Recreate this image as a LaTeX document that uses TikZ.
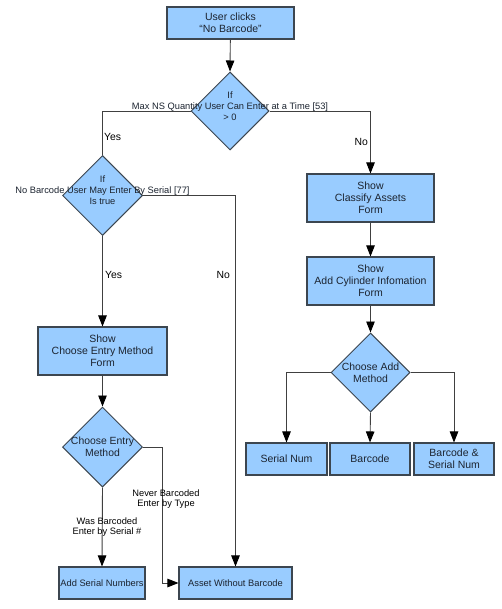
\documentclass[tikz,border=0pt]{standalone}
\usepackage{fontspec}
\setmainfont{Liberation Sans}
\usetikzlibrary{arrows.meta,shapes.geometric}
\definecolor{boxfill}{HTML}{99CCFF}
\definecolor{boxdraw}{HTML}{3C4650}
\definecolor{linecol}{HTML}{404040}
\definecolor{txtcol}{HTML}{1C2430}
\tikzset{
  procbox/.style={draw=boxdraw,fill=boxfill,line width=1.1pt,inner sep=0pt,align=center,
    text=txtcol,font={\fontsize{10.5}{11.8}\selectfont}},
  decision/.style={draw=boxdraw,fill=boxfill,line width=1pt,diamond,inner sep=0pt,aspect=1},
  dtext/.style={align=center,inner sep=0pt,text=txtcol,font={\fontsize{9.3}{11}\selectfont}},
  elabel/.style={align=center,inner sep=0pt,font={\fontsize{9.3}{10.5}\selectfont}},
  conn/.style={draw=linecol,line width=0.9pt},
  arr/.style={conn,-{Triangle[length=11pt,width=8.5pt,fill=black,color=black]}},
}
\begin{document}
\begin{tikzpicture}[x=1pt,y=-1pt]
\useasboundingbox[fill=white] (0,0) rectangle (501,609);
% nodes
\node[procbox,minimum width=127,minimum height=32] (start) at (230.5,23) {User clicks\\``No Barcode''};
\node[decision,minimum width=78,minimum height=78] (d1) at (230,111) {};
\node[dtext] (d1t) at (230,106) {If\\Max NS Quantity User Can Enter at a Time [53]\\> 0};
\node[decision,minimum width=80,minimum height=80] (d2) at (102.5,195.5) {};
\node[dtext] (d2t) at (102.5,190) {If\\No Barcode User May Enter By Serial [77]\\Is true};
\node[procbox,minimum width=129,minimum height=48] (cem) at (102.5,351) {Show\\Choose Entry Method\\Form};
\node[decision,minimum width=80,minimum height=80] (d3) at (102.5,447) {};
\node[dtext,font={\fontsize{10.4}{11.8}\selectfont}] (d3t) at (102.5,447) {Choose Entry\\Method};
\node[procbox,minimum width=86,minimum height=32,font={\fontsize{9.3}{10}\selectfont}] (asn) at (102,583) {Add Serial Numbers};
\node[procbox,minimum width=113,minimum height=32,font={\fontsize{9.3}{10}\selectfont}] (awb) at (235.5,583) {Asset Without Barcode};
\node[procbox,minimum width=127,minimum height=48] (cls) at (370.5,198) {Show\\Classify Assets\\Form};
\node[procbox,minimum width=127,minimum height=48] (acf) at (370.5,281) {Show\\Add Cylinder Infomation\\Form};
\node[decision,minimum width=79,minimum height=79] (d4) at (370.5,372.5) {};
\node[dtext,font={\fontsize{10.4}{11.8}\selectfont}] (d4t) at (370.5,372.5) {Choose Add\\Method};
\node[procbox,minimum width=81,minimum height=32] (sn) at (286.5,459) {Serial Num};
\node[procbox,minimum width=80,minimum height=32] (bc) at (370,459) {Barcode};
\node[procbox,minimum width=80,minimum height=32] (bsn) at (454,459) {Barcode \&\\Serial Num};
% connectors
\draw[arr] (start) -- (d1.north);
\draw[conn] (d1.west) -| (d2.north);
\draw[arr] (d1.east) -| (cls.north);
\draw[arr] (d2.south) -- (cem.north);
\draw[arr] (d2.east) -| (awb.north);
\draw[arr] (cem) -- (d3.north);
\draw[arr] (d3.south) -- (asn.north);
\coordinate (d3r) at (162,447);
\draw[arr] (d3.east) -- (d3r) |- (awb.west);
\draw[arr] (cls) -- (acf);
\draw[arr] (acf) -- (d4.north);
\draw[arr] (d4.west) -| (sn.north);
\draw[arr] (d4.south) -- (bc.north);
\draw[arr] (d4.east) -| (bsn.north);
% labels
\node[elabel,anchor=west,font={\fontsize{10.4}{11.5}\selectfont}] (lyes1) at (104,137) {Yes};
\node[elabel,anchor=east,font={\fontsize{10.4}{11.5}\selectfont}] (lno1) at (368,142) {No};
\node[elabel,anchor=west,font={\fontsize{10.4}{11.5}\selectfont}] (lyes2) at (105,275) {Yes};
\node[elabel,anchor=east,font={\fontsize{10.4}{11.5}\selectfont}] (lno2) at (230,275) {No};
\node[elabel] (lnb) at (166,499) {Never Barcoded\\Enter by Type};
\node[elabel] (lwb) at (107,527) {Was Barcoded\\Enter by Serial \#};
\end{tikzpicture}
\end{document}
